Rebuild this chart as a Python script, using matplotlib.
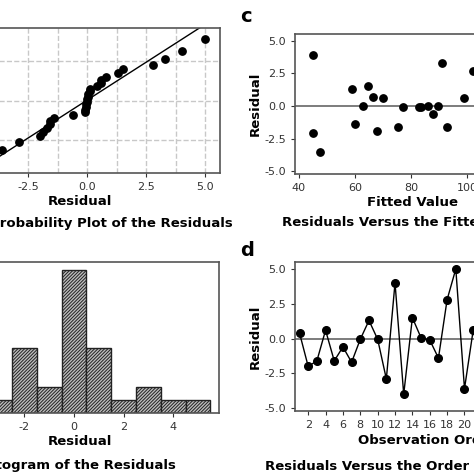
import matplotlib
matplotlib.use("Agg")
import matplotlib.pyplot as plt
import numpy as np
from statistics import NormalDist

plt.rcParams['font.family'] = ['DejaVu Sans']
plt.rcParams['axes.unicode_minus'] = False

# observation-order residuals
order_resid = [0.4, -2.0, -1.6, 0.6, -1.6, -0.6, -1.7, -0.05, 1.3, -0.05, -2.9, 4.0, -4.0,
               1.5, 0.05, -0.1, -1.4, 2.8, 5.0, -3.6, 0.6, -1.9, 0.0, 0.0, 0.1, 0.1, -0.1,
               0.05, 0.8, 3.3]
# fitted vs residual
fitted = [45, 45, 47.5, 59, 60, 63, 64.5, 66.5, 68, 70, 75.5, 77, 83, 83.5, 86, 88, 89.5,
          91, 93, 99, 102]
fit_resid = [3.9, -2.1, -3.5, 1.3, -1.4, 0.0, 1.5, 0.7, -1.9, 0.6, -1.6, -0.1, -0.1, -0.1,
             0.0, -0.6, 0.0, 3.3, -1.6, 0.6, 2.7]
# histogram
hist_centers = [-4, -3, -2, -1, 0, 1, 2, 3, 4, 5]
hist_counts = [1, 1, 5, 2, 11, 5, 1, 2, 1, 1]

W = 474.0
fig = plt.figure(figsize=(4.74, 4.74), dpi=100)

def ax_px(l, r, t, b):
    return fig.add_axes([l / W, 1 - b / W, (r - l) / W, (b - t) / W])

spine_c = '#555555'
tick_fs = 8
lab_fs = 9.5

def style(ax):
    for s in ax.spines.values():
        s.set_color(spine_c)
        s.set_linewidth(1.2)
    ax.tick_params(labelsize=tick_fs, colors='#333333', length=3)

# Panel a: normal probability plot
ax = ax_px(-60, 220, 28, 173)
style(ax)
r = np.sort(np.array(order_resid))
n = len(r)
nd = NormalDist()
z = np.array([nd.inv_cdf((i + 1 - 0.3) / (n + 0.4)) for i in range(n)])
ax.scatter(r, z, s=28, color='black', zorder=3)
mu, sd = r.mean(), r.std(ddof=1)
xs = np.array([-8, 8])
ax.plot(xs, (xs - mu) / sd, color='black', lw=1)
ax.set_xlim(-5.8, 5.63)
ax.set_ylim(-2.35, 2.35)
ax.set_xticks([-5, -2.5, 0, 2.5, 5.0])
ax.set_xticklabels(['-5.0', '-2.5', '0.0', '2.5', '5.0'])
ax.set_xticks(np.arange(-6.25, 6, 1.25), minor=True)
ax.set_yticks([nd.inv_cdf(p) for p in [0.1, 0.5, 0.9]])
ax.set_yticklabels([])
ax.tick_params(axis='x', which='minor', length=0)
ax.grid(True, which='both', ls='--', color='#c8c8c8', lw=1)
ax.set_xlabel('Residual', fontsize=lab_fs, fontweight='bold', labelpad=2)
fig.text(82 / W, 1 - 223 / W, 'Normal Probability Plot of the Residuals', fontsize=lab_fs,
         fontweight='bold', ha='center', va='center')

# Panel b: histogram
ax = ax_px(-60, 219, 262, 413)
style(ax)
plt.rcParams['hatch.linewidth'] = 0.7
plt.rcParams['hatch.color'] = '#333333'
ax.bar(hist_centers, hist_counts, width=1, color='#bdbdbd', edgecolor='#222222',
       hatch='//////////', lw=1)
ax.set_xlim(-5.4, 5.85)
ax.set_ylim(0, 11.65)
ax.set_xticks([-4, -2, 0, 2, 4])
ax.set_yticks([])
ax.set_xlabel('Residual', fontsize=lab_fs, fontweight='bold', labelpad=2)
fig.text(74 / W, 1 - 466 / W, 'Histogram of the Residuals', fontsize=lab_fs,
         fontweight='bold', ha='center', va='center')

# Panel c: versus fits
ax = ax_px(295, 530, 34, 174)
style(ax)
ax.axhline(0, color='#666666', lw=1.2)
ax.scatter(fitted, fit_resid, s=28, color='black', zorder=3)
ax.set_xlim(38.6, 122.5)
ax.set_ylim(-5.2, 5.5)
ax.set_xticks([40, 60, 80, 100, 120])
ax.set_yticks([-5, -2.5, 0, 2.5, 5])
ax.set_yticklabels(['-5.0', '-2.5', '0.0', '2.5', '5.0'])
ax.set_xlabel('Fitted Value', fontsize=lab_fs, fontweight='bold', labelpad=2)
ax.set_ylabel('Residual', fontsize=lab_fs, fontweight='bold', labelpad=2)
fig.text(412 / W, 1 - 223 / W, 'Residuals Versus the Fitted Values', fontsize=lab_fs,
         fontweight='bold', ha='center', va='center')
fig.text(240 / W, 1 - 16 / W, 'c', fontsize=14, fontweight='bold', ha='left', va='center')

# Panel d: versus order
ax = ax_px(295, 560, 262, 411)
style(ax)
ax.axhline(0, color='#666666', lw=1.2)
obs = np.arange(1, len(order_resid) + 1)
ax.plot(obs, order_resid, color='black', lw=1, marker='o', ms=5.5)
ax.set_xlim(0.48, 31)
ax.set_ylim(-5.2, 5.5)
ax.set_xticks(np.arange(2, 31, 2))
ax.set_yticks([-5, -2.5, 0, 2.5, 5])
ax.set_yticklabels(['-5.0', '-2.5', '0.0', '2.5', '5.0'])
ax.set_xlabel('Observation Order', fontsize=lab_fs, fontweight='bold', labelpad=3)
ax.set_ylabel('Residual', fontsize=lab_fs, fontweight='bold', labelpad=2)
fig.text(412 / W, 1 - 467 / W, 'Residuals Versus the Order of the Data', fontsize=lab_fs,
         fontweight='bold', ha='center', va='center')
fig.text(240 / W, 1 - 250 / W, 'd', fontsize=14, fontweight='bold', ha='left', va='center')

fig.savefig('out.png', dpi=100)
